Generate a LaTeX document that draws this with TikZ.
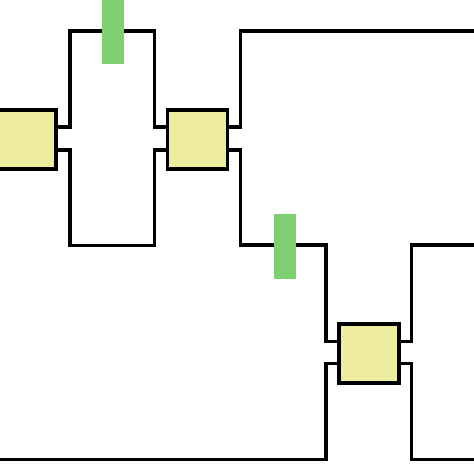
\documentclass[tikz,border=0pt]{standalone}
\definecolor{boxfill}{RGB}{238,236,158}
\definecolor{barfill}{RGB}{126,207,112}
\tikzset{
  unitbox/.style={draw=black, line width=3.8pt, fill=boxfill, rectangle, minimum width=60pt, minimum height=59pt, inner sep=0pt, outer sep=0pt},
  greenbar/.style={fill=barfill, draw=none, rectangle, minimum width=22pt, minimum height=65pt, inner sep=0pt, outer sep=0pt},
  wire/.style={draw=black, line width=3.3pt, line join=miter}
}
\begin{document}
\begin{tikzpicture}[x=1pt,y=-1pt]
\clip (0,0) rectangle (474,474);
\fill[white] (0,0) rectangle (474,474);
% box positions
\coordinate (p1) at (26,139.5);
\coordinate (p2) at (197.5,139.5);
\coordinate (p3) at (368.7,353.7);
% turning points
\coordinate (a1) at (70,127);
\coordinate (a2) at (70,31);
\coordinate (a3) at (154.3,31);
\coordinate (a4) at (154.3,127);
\coordinate (c1) at (70,150);
\coordinate (c2) at (70,245.4);
\coordinate (c3) at (154.3,245.4);
\coordinate (c4) at (154.3,150);
\coordinate (d1) at (240.7,127);
\coordinate (d2) at (240.7,31);
\coordinate (d3) at (480,31);
\coordinate (e1) at (240.7,150);
\coordinate (e2) at (240.7,245);
\coordinate (e3) at (326,245);
\coordinate (e4) at (326,341.7);
\coordinate (f1) at (326,363.3);
\coordinate (f2) at (326,459.3);
\coordinate (f3) at (-6,459.3);
\coordinate (h1) at (411.7,341.7);
\coordinate (h2) at (411.7,245);
\coordinate (h3) at (480,245);
\coordinate (k1) at (411.7,363.3);
\coordinate (k2) at (411.7,459.3);
\coordinate (k3) at (480,459.3);
% wires
\draw[wire] (p1 |- a1) -- (a1) -- (a2) -- (a3) -- (a4) -- (p2 |- a4);
\draw[wire] (p1 |- c1) -- (c1) -- (c2) -- (c3) -- (c4) -- (p2 |- c4);
\draw[wire] (p2 |- d1) -- (d1) -- (d2) -- (d3);
\draw[wire] (p2 |- e1) -- (e1) -- (e2) -- (e3) -- (e4) -- (p3 |- e4);
\draw[wire] (p3 |- f1) -- (f1) -- (f2) -- (f3);
\draw[wire] (p3 |- h1) -- (h1) -- (h2) -- (h3);
\draw[wire] (p3 |- k1) -- (k1) -- (k2) -- (k3);
% boxes
\node[unitbox] (b1) at (p1) {};
\node[unitbox] (b2) at (p2) {};
\node[unitbox] (b3) at (p3) {};
% green bars
\node[greenbar] (g1) at (113.2,31) {};
\node[greenbar] (g2) at (284.5,246.5) {};
\end{tikzpicture}
\end{document}
